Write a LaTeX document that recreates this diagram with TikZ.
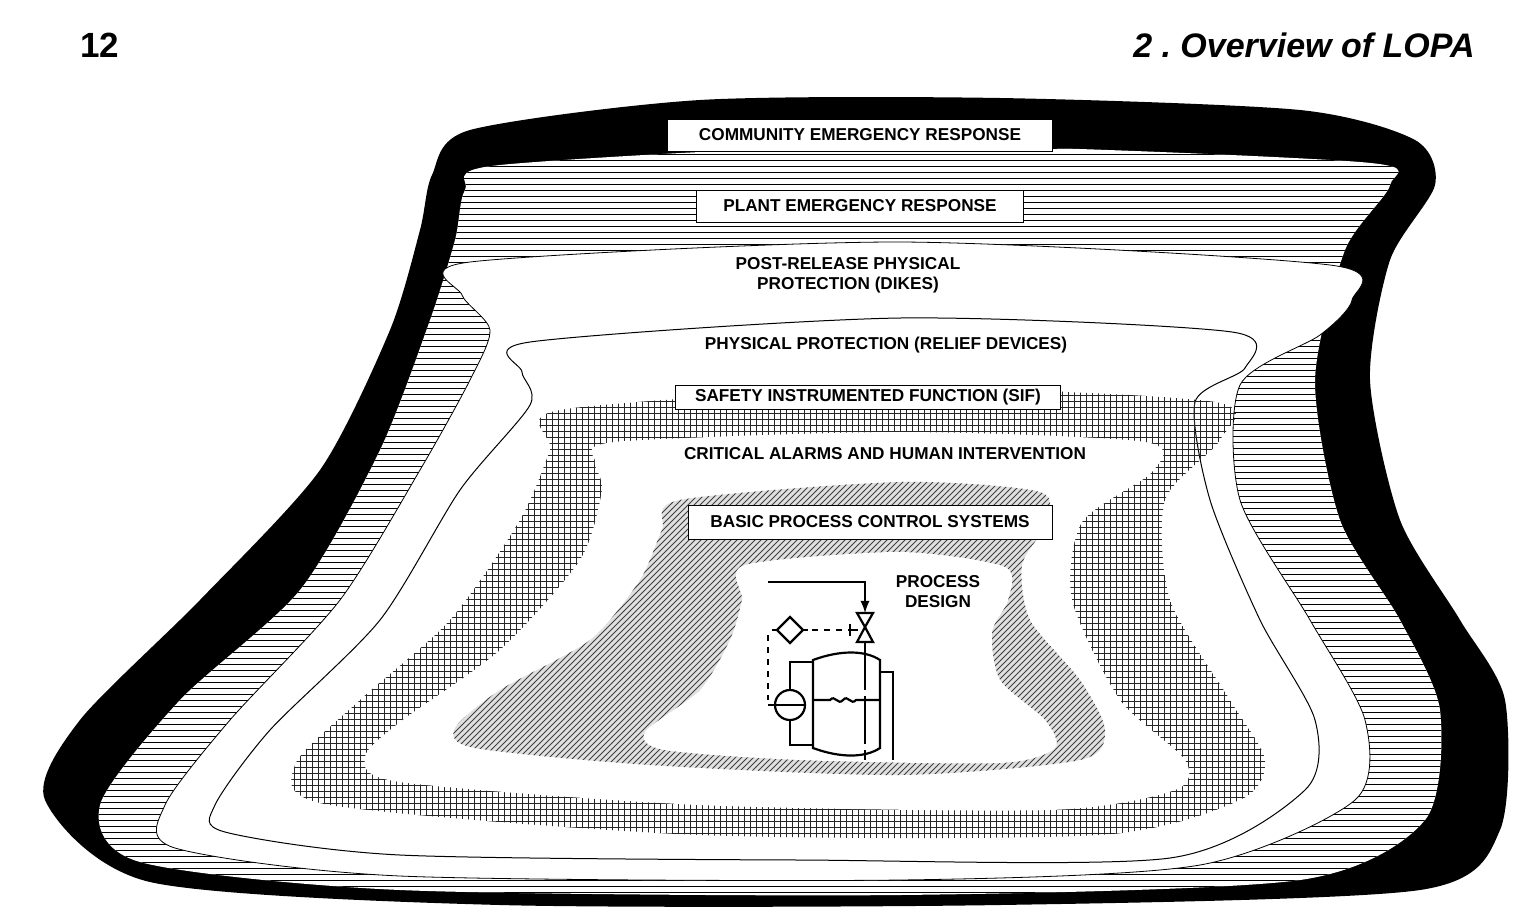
\documentclass[tikz,border=0pt]{standalone}
\usepackage{fontspec}
\setmainfont{Liberation Sans}
\usetikzlibrary{patterns}
\begin{document}
\begin{tikzpicture}[x=0.5pt,y=-0.5pt,
  lbl/.style={font=\bfseries\fontsize{8.6}{10}\selectfont,align=center,inner sep=0pt},
  lblbox/.style={lbl,draw=black,line width=0.5pt,fill=white,minimum height=16pt,inner xsep=6pt},
  blob/.style={smooth cycle,tension=0.45},
  icon/.style={line width=1.1pt}]
\useasboundingbox (0,0) rectangle (1515,917);
\def\layerB{(500,165)(900,145)(1360,162)(1390,185)(1345,250)(1315,380)(1340,520)(1400,620)(1440,710)(1425,820)(1300,880)(900,895)(400,890)(140,862)(100,805)(180,700)(300,590)(380,450)(430,320)(455,240)(465,190)}
\def\layerG{(560,410)(900,388)(1215,402)(1220,440)(1165,500)(1170,600)(1230,700)(1265,760)(1240,800)(1100,835)(700,835)(330,805)(295,765)(360,700)(450,620)(520,520)(550,450)}
\def\layerH{(680,500)(900,482)(1040,492)(1045,525)(1022,565)(1030,620)(1080,680)(1105,730)(1080,760)(900,775)(650,765)(475,748)(455,728)(500,690)(590,640)(640,580)(662,530)}
% layers
\fill[black] plot[blob] coordinates {(470,130)(700,100)(1000,98)(1300,110)(1415,140)(1435,185)(1390,260)(1370,380)(1400,520)(1460,620)(1505,700)(1500,830)(1420,890)(1000,905)(500,905)(150,882)(45,800)(80,720)(200,600)(320,470)(390,330)(420,230)(432,175)};
\fill[white] plot[blob] coordinates \layerB;
\fill[pattern=horizontal lines,pattern color=black] plot[blob] coordinates \layerB;
\filldraw[fill=white,line width=0.4pt] plot[blob] coordinates {(470,262)(900,242)(1330,265)(1352,300)(1320,335)(1240,385)(1240,500)(1310,620)(1365,720)(1355,800)(1200,865)(900,880)(400,876)(175,848)(165,805)(230,720)(340,600)(420,470)(470,380)(490,330)(462,295)};
\filldraw[fill=white,line width=0.5pt] plot[blob] coordinates {(530,342)(900,318)(1232,332)(1245,368)(1195,402)(1210,500)(1260,620)(1315,720)(1305,790)(1170,858)(800,860)(400,855)(225,832)(215,805)(270,730)(380,620)(460,490)(530,405)(522,372)};
\fill[pattern=grid,pattern color=black!85] plot[blob] coordinates \layerG;
\fill[white] plot[blob] coordinates {(615,442)(900,432)(1145,442)(1152,472)(1082,522)(1072,600)(1120,700)(1185,760)(1175,790)(1050,810)(700,805)(400,782)(365,757)(400,722)(500,650)(580,560)(602,490)(595,462)};
\fill[black!12] plot[blob] coordinates \layerH;
\fill[pattern=north east lines,pattern color=black!75] plot[blob] coordinates \layerH;
\fill[white] plot[blob] coordinates {(745,565)(900,552)(1005,567)(1008,600)(992,632)(1000,680)(1045,720)(1055,748)(1000,763)(800,760)(665,750)(645,732)(700,690)(730,640)(742,600)};
% labels
\node[lblbox,minimum width=385*0.5pt] (cer) at (860,135) {COMMUNITY EMERGENCY RESPONSE};
\node[lblbox,minimum width=327*0.5pt] (per) at (860,206) {PLANT EMERGENCY RESPONSE};
\node[lbl] (prp) at (848,275) {POST-RELEASE PHYSICAL\\PROTECTION (DIKES)};
\node[lbl] (pp) at (886,345) {PHYSICAL PROTECTION (RELIEF DEVICES)};
\node[lblbox,minimum width=385*0.5pt,minimum height=12pt] (sif) at (868,397) {SAFETY INSTRUMENTED FUNCTION (SIF)};
\node[lbl] (cah) at (885,454) {CRITICAL ALARMS AND HUMAN INTERVENTION};
\node[lblbox,minimum width=364*0.5pt,minimum height=17pt] (bpcs) at (870,522) {BASIC PROCESS CONTROL SYSTEMS};
\node[lbl] (pd) at (938,592) {PROCESS\\DESIGN};
% header
\node[font=\bfseries\fontsize{17.5}{20}\selectfont,anchor=west,inner sep=0pt] (pg) at (80,45) {12};
\node[font=\bfseries\itshape\fontsize{17}{20}\selectfont,anchor=east,inner sep=0pt] (hd) at (1475,45) {2 .\ Overview of LOPA};
% process icon
\coordinate (vc) at (865,627);
\draw[icon,-latex] (768,582) -- (865,582) -- (865,613);
\draw[icon,fill=white] (857,613) -- (873,613) -- (vc) -- cycle;
\draw[icon,fill=white] (857,642) -- (873,642) -- (vc) -- cycle;
\draw[icon] (790,617) -- (803,630) -- (790,643) -- (777,630) -- cycle;
\draw[icon] (772,630) -- (777,630) (803,630) -- (808,630);
\draw[icon,dashed] (812,630) -- (850,630);
\draw[icon] (850,624) -- (850,636) (850,630) -- (858,630);
\draw[icon,dashed] (768,635) -- (768,700);
\draw[icon] (768,705) -- (775,705);
\draw[icon,fill=white] (790,705) circle (15);
\draw[icon] (775,705) -- (805,705);
\draw[icon] (790,690) -- (790,662) -- (813,662);
\draw[icon] (790,720) -- (790,745) -- (813,745);
\draw[icon] (813,660) .. controls (840,650) and (865,650) .. (880,660) -- (880,748) .. controls (865,758) and (840,758) .. (813,748) -- cycle;
\draw[icon] (813,700) -- (830,700) .. controls (835,694) and (838,706) .. (843,700) .. controls (848,694) and (851,706) .. (856,700) -- (880,700);
\draw[icon,dash pattern=on 24pt off 3pt] (865,642) -- (865,760);
\draw[icon] (880,672) -- (893,672) -- (893,760);
\end{tikzpicture}
\end{document}
